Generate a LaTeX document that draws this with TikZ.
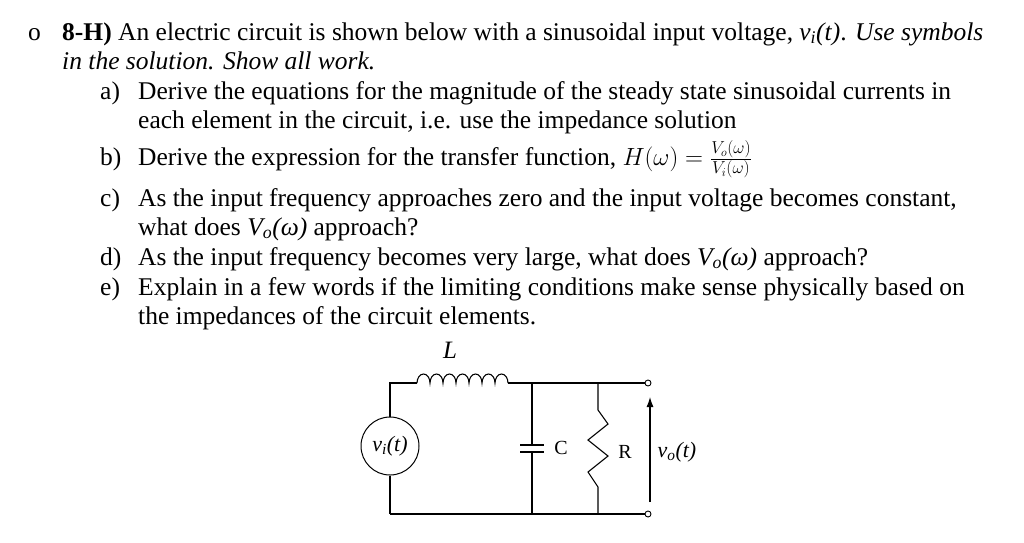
\documentclass[tikz,border=0pt]{standalone}
\usepackage{fontspec}
\setmainfont{Liberation Serif}
\usetikzlibrary{arrows.meta}
\begin{document}
\begin{tikzpicture}[x=1pt,y=-1pt,
  txt/.style={anchor=base west,inner sep=0pt,font=\fontsize{25.5}{28}\selectfont},
  wire/.style={line width=1.1pt},
  term/.style={circle,draw,line width=0.9pt,minimum size=6pt,inner sep=0pt,fill=white},
  lbl/.style={font=\fontsize{20}{22}\selectfont,inner sep=0pt}]
\useasboundingbox (0,0) rectangle (1024,542);
\node[txt] (b0) at (28,40) {o};
\node[txt] (l1) at (62,40) {\textbf{8-H)} An electric circuit is shown below with a sinusoidal input voltage, \textit{v\textsubscript{i}(t)}. \textit{Use symbols}};
\node[txt] (l2) at (62,69) {\textit{in the solution. Show all work.}};
\node[txt] (a1) at (100,99) {a)};
\node[txt] (a2) at (138,99) {Derive the equations for the magnitude of the steady state sinusoidal currents in};
\node[txt] (a3) at (138,128) {each element in the circuit, i.e. use the impedance solution};
\node[txt] (b1) at (100,165) {b)};
\node[txt] (b2) at (138,165) {Derive the expression for the transfer function, $H(\omega)=\frac{V_o(\omega)}{V_i(\omega)}$};
\node[txt] (c1) at (100,206) {c)};
\node[txt] (c2) at (138,206) {As the input frequency approaches zero and the input voltage becomes constant,};
\node[txt] (c3) at (138,235) {what does \textit{V\textsubscript{o}(ω)} approach?};
\node[txt] (d1) at (100,265) {d)};
\node[txt] (d2) at (138,265) {As the input frequency becomes very large, what does \textit{V\textsubscript{o}(ω)} approach?};
\node[txt] (e1) at (100,295) {e)};
\node[txt] (e2) at (138,295) {Explain in a few words if the limiting conditions make sense physically based on};
\node[txt] (e3) at (138,324) {the impedances of the circuit elements.};
% circuit
\coordinate (tl) at (390,383);
\coordinate (bl) at (390,514);
\coordinate (li) at (417,383);
\coordinate (lo) at (508,383);
\node[circle,draw,line width=1pt,minimum size=58pt,inner sep=0pt] (src) at (390,446) {};
\node[font=\fontsize{22}{24}\selectfont\itshape] (srcl) at (390,446) {v\textsubscript{i}(t)};
\draw[wire] (src.north) -- (tl) -- (li);
\draw[wire] (li) \foreach \k in {0,...,6} {arc[start angle=180,end angle=0,x radius=6.5pt,y radius=9pt] -- ++(0,0)} ;
\draw[wire] (src.south) -- (bl);
\coordinate (cx) at (532,383);
\coordinate (rx) at (598,383);
\node[term] (ot) at (648,383) {};
\node[term] (ob) at (648,514) {};
\draw[wire] (lo) -- (ot.west);
\draw[wire] (bl) -- (ob.west);
\coordinate (cp1) at (532,445);
\coordinate (cp2) at (532,452);
\draw[wire] (cx) -- (cp1) (cp2) -- (532,514);
\draw[wire] (520,445) -- (544,445) (520,452) -- (544,452);
\draw[wire] (rx) -- (598,410) -- (608,424) -- (588,440) -- (608,456) -- (588,472) -- (598,487) -- (598,514);
\node[lbl] (cl) at (561,448) {C};
\node[lbl] (rl) at (625,452) {R};
\coordinate (a0) at (650,502);
\coordinate (a9) at (650,397);
\draw[wire,-{Latex[length=10pt,width=7pt]}] (a0) -- (a9);
\node[font=\fontsize{22}{24}\selectfont\itshape,anchor=west] (vo) at (654,452) {v\textsubscript{o}(t)};
\node[font=\fontsize{25}{26}\selectfont\itshape] (ll) at (450,350) {L};
\end{tikzpicture}
\end{document}
